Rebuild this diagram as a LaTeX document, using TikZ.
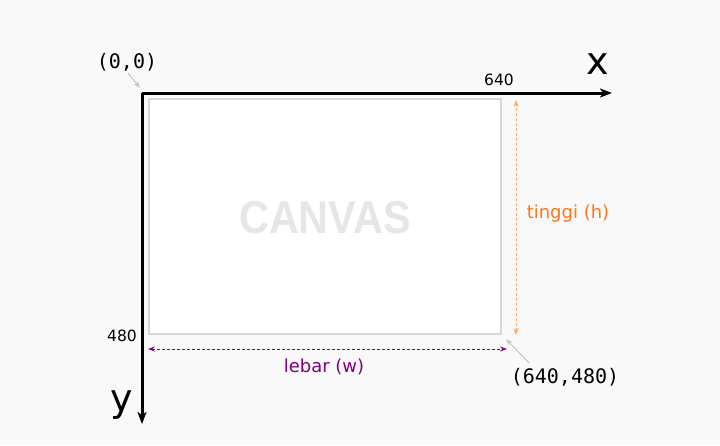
\documentclass[tikz,border=0pt]{standalone}
\usepackage{fontspec}
\setmainfont{DejaVu Sans}
\setmonofont{DejaVu Sans Mono}
\newfontfamily\canvasfont{Liberation Sans}
\usetikzlibrary{arrows.meta}
\definecolor{bgcol}{HTML}{F9F9F9}
\definecolor{framecol}{HTML}{D8D8D8}
\definecolor{canvastext}{HTML}{E6E6E6}
\definecolor{pointcol}{HTML}{C4C4C4}
\definecolor{hcol}{HTML}{FFA766}
\definecolor{htext}{HTML}{FF7518}
\definecolor{wcol}{HTML}{800080}

\begin{document}
\begin{tikzpicture}[
		x=1pt, y=-1pt,
		every node/.style={inner sep=0pt},
		axis/.style={line width=3pt, -{Stealth[length=12pt, width=9pt, inset=3pt]}},
		pointer/.style={pointcol, line width=1pt, -{Stealth[length=7pt, width=5pt]}},
		dimension/.style={densely dashed, line width=1pt, {Stealth[length=7pt, width=5pt]}-{Stealth[length=7pt, width=5pt]}},
		coord/.style={font=\ttfamily\fontsize{20}{22}\selectfont}
	]
  \useasboundingbox (0,0) rectangle (720,445);
  \fill [bgcol] (0,0) rectangle (720,445);
  \node (canvas) [draw=framecol, fill=white, line width=1.5pt, minimum width=352pt, minimum height=235pt] at (325,216.5) {};
  \node (canvas_label) [text=canvastext, font=\canvasfont\bfseries\fontsize{46}{50}\selectfont, xscale=0.9] at (325,218) {CANVAS};
  \coordinate (origin) at (142,93);
  \coordinate (x_end) at (612,93);
  \coordinate (y_end) at (142,424);
  \draw [axis] (origin) -- (x_end);
  \draw [axis] (origin) -- (y_end);
  \node (x_label) [font=\fontsize{38}{40}\selectfont] at (598,64) {x};
  \node (y_label) [font=\fontsize{38}{40}\selectfont] at (122,405) {y};
  \node (w_max) [font=\fontsize{15.5}{18}\selectfont] at (499,80) {640};
  \node (h_max) [font=\fontsize{15.5}{18}\selectfont] at (122,336) {480};
  \node (zero) [coord] at (127,62) {(0,0)};
  \node (corner) [coord] at (565,377) {(640,480)};
  \coordinate (zero_from) at (128,73);
  \coordinate (zero_to) at (140,88);
  \coordinate (corner_from) at (529,363);
  \coordinate (corner_to) at (506,339);
  \draw [pointer] (zero_from) -- (zero_to);
  \draw [pointer] (corner_from) -- (corner_to);
  \coordinate (h_top) at (516,100);
  \coordinate (h_bottom) at (516,335);
  \coordinate (w_left) at (148,349);
  \coordinate (w_right) at (507,349);
  \draw [dimension, hcol] (h_bottom) -- (h_top);
  \draw [dimension, wcol] (w_left) -- (w_right);
  \node (h_label) [text=htext, font=\fontsize{18}{20}\selectfont] at (568,214) {tinggi (h)};
  \node (w_label) [text=wcol, font=\fontsize{18}{20}\selectfont] at (324,367) {lebar (w)};
\end{tikzpicture}
\end{document}
